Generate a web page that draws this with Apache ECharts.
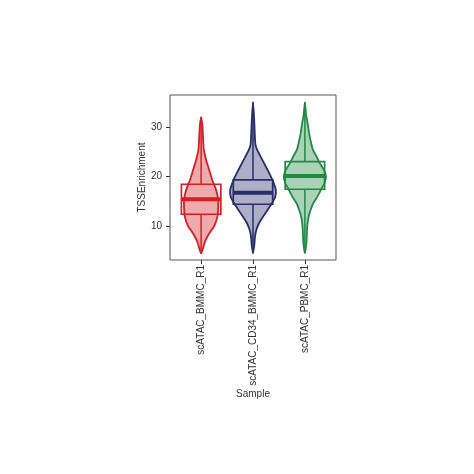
<!DOCTYPE html>
<html>
<head>
<meta charset="utf-8">
<script src="https://cdn.jsdelivr.net/npm/echarts@6/dist/echarts.min.js"></script>
<style>html,body{margin:0;padding:0;background:#fff}#c{width:474px;height:474px}</style>
</head>
<body>
<div id="c"></div>
<script>
// ---- data ----
const samples = ['scATAC_BMMC_R1', 'scATAC_CD34_BMMC_R1', 'scATAC_PBMC_R1'];
const yTicks = [10, 20, 30];

// violin density profiles: TSSEnrichment level and half-width (x units)
const bmmcY   = [32.05, 30.49, 28.46, 25.42, 23.39, 21.36, 19.33, 18.52, 16.90, 15.27, 13.65, 12.23, 11.01, 9.80, 8.78, 7.77, 6.55, 5.54, 4.42];
const bmmcW   = [0, 0.023, 0.035, 0.052, 0.097, 0.155, 0.213, 0.246, 0.300, 0.329, 0.329, 0.320, 0.291, 0.242, 0.174, 0.116, 0.064, 0.039, 0];
const cd34Y   = [35.09, 31.50, 28.46, 26.43, 25.42, 23.39, 21.36, 19.33, 17.30, 15.94, 14.60, 13.25, 11.89, 10.55, 9.19, 7.83, 6.15, 4.46];
const cd34W   = [0, 0.023, 0.035, 0.048, 0.081, 0.180, 0.281, 0.374, 0.440, 0.430, 0.364, 0.281, 0.194, 0.116, 0.064, 0.039, 0.025, 0];
const pbmcY   = [35.09, 32.52, 31.16, 28.46, 27.04, 25.42, 24.06, 23.04, 21.36, 20.00, 18.66, 17.44, 15.94, 14.60, 13.25, 11.89, 9.86, 6.55, 4.46];
const pbmcW   = [0, 0.023, 0.048, 0.087, 0.116, 0.155, 0.227, 0.271, 0.368, 0.407, 0.378, 0.316, 0.242, 0.161, 0.110, 0.072, 0.045, 0.029, 0];

// box statistics
const q1Vals     = [12.37, 14.40, 17.44];
const medianVals = [15.40, 16.75, 20.14];
const q3Vals     = [18.46, 19.33, 23.04];
const minVals    = [4.42, 4.46, 4.46];
const maxVals    = [32.05, 35.09, 35.09];

// ---- styling ----
const colors = ['#D51F26', '#272E6A', '#208A42'];
const fills  = ['rgba(213,31,38,0.38)', 'rgba(39,46,106,0.38)', 'rgba(32,138,66,0.38)'];
const violinY = [bmmcY, cd34Y, pbmcY];
const violinW = [bmmcW, cd34W, pbmcW];
const BOX_HALF = 0.38;

function makeRender(k) {
  return function (params, api) {
    const c = api.value(0);
    const ys = violinY[k], ws = violinW[k];
    const pts = [];
    for (let i = 0; i < ys.length; i++) pts.push(api.coord([c - ws[i], ys[i]]));
    for (let i = ys.length - 2; i >= 1; i--) pts.push(api.coord([c + ws[i], ys[i]]));
    const col = colors[k];
    const pTop = api.coord([c, maxVals[k]]);
    const pQ3 = api.coord([c, q3Vals[k]]);
    const pQ1 = api.coord([c, q1Vals[k]]);
    const pMin = api.coord([c, minVals[k]]);
    const bl = api.coord([c - BOX_HALF, q3Vals[k]]);
    const br = api.coord([c + BOX_HALF, q1Vals[k]]);
    const ml = api.coord([c - BOX_HALF, medianVals[k]]);
    const mr = api.coord([c + BOX_HALF, medianVals[k]]);
    return {
      type: 'group',
      children: [
        { type: 'polygon', shape: { points: pts, smooth: 0.22 },
          style: { fill: fills[k], stroke: col, lineWidth: 1.8, lineJoin: 'round' } },
        { type: 'line', shape: { x1: pTop[0], y1: pTop[1], x2: pQ3[0], y2: pQ3[1] },
          style: { stroke: col, lineWidth: 1.5 } },
        { type: 'line', shape: { x1: pQ1[0], y1: pQ1[1], x2: pMin[0], y2: pMin[1] },
          style: { stroke: col, lineWidth: 1.5 } },
        { type: 'rect', shape: { x: bl[0], y: bl[1], width: br[0] - bl[0], height: br[1] - bl[1] },
          style: { fill: 'none', stroke: col, lineWidth: 1.7 } },
        { type: 'line', shape: { x1: ml[0], y1: ml[1], x2: mr[0], y2: mr[1] },
          style: { stroke: col, lineWidth: 4 } }
      ]
    };
  };
}

const chart = echarts.init(document.getElementById('c'), null, { renderer: 'canvas' });
const font = 'Liberation Sans';
chart.setOption({
  animation: false,
  backgroundColor: '#fff',
  grid: { left: 170, top: 95, width: 166, height: 165, show: true, borderColor: '#555', borderWidth: 1, backgroundColor: 'transparent' },
  xAxis: {
    type: 'value', min: 0.4, max: 3.6,
    splitLine: { show: false },
    axisLine: { show: false },
    axisTick: { show: true, customValues: [1, 2, 3], length: 4, lineStyle: { color: '#333' } },
    axisLabel: { customValues: [1, 2, 3], rotate: 90, margin: 5, fontSize: 10, fontFamily: font, color: '#333',
      formatter: function (v) { return samples[Math.round(v) - 1] || ''; } },
    name: 'Sample', nameLocation: 'middle', nameGap: 126,
    nameTextStyle: { fontSize: 10, fontFamily: font, color: '#333' }
  },
  yAxis: {
    type: 'value', min: 3.1, max: 36.55,
    splitLine: { show: false },
    axisLine: { show: false },
    axisTick: { show: true, customValues: yTicks, length: 4, lineStyle: { color: '#333' } },
    axisLabel: { customValues: yTicks, margin: 8, fontSize: 10, fontFamily: font, color: '#333' },
    name: 'TSSEnrichment', nameLocation: 'middle', nameRotate: 90, nameGap: 23,
    nameTextStyle: { fontSize: 10, fontFamily: font, color: '#333' }
  },
  series: samples.map(function (s, k) {
    return {
      type: 'custom', name: s, coordinateSystem: 'cartesian2d',
      renderItem: makeRender(k), encode: { x: 0 },
      data: [[k + 1]], clip: false
    };
  })
});
</script>
</body>
</html>
